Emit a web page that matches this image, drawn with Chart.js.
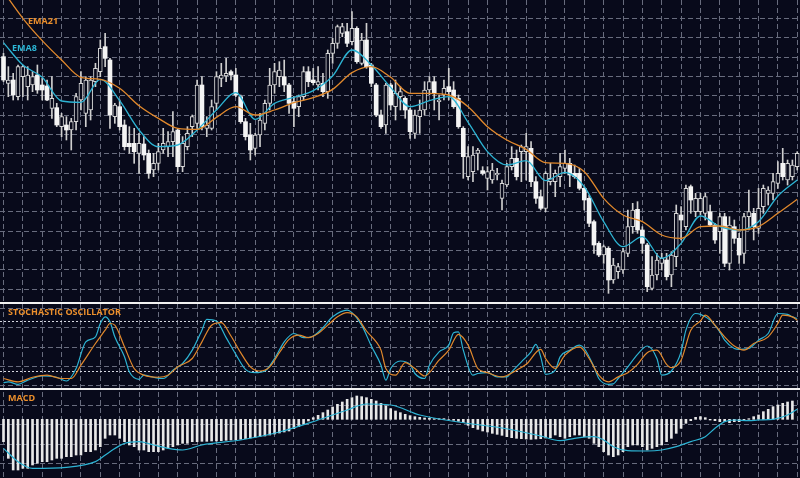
<!DOCTYPE html>
<html><head><meta charset="utf-8">
<script src="https://cdn.jsdelivr.net/npm/chart.js@4"></script>
<style>
html,body{margin:0;padding:0;background:#080a1b;}
#wrap{position:relative;width:800px;height:478px;overflow:hidden;background:#080a1b;}
canvas{position:absolute;left:0;top:0;}
.lbl{position:absolute;font-family:"Open Sans",sans-serif;font-weight:700;font-size:9px;line-height:9px;white-space:nowrap;}
</style></head><body>
<div id="wrap">
<canvas id="c" width="800" height="478"></canvas>
<div class="lbl" style="left:28px;top:16px;color:#ec8f2c">EMA21</div>
<div class="lbl" style="left:12px;top:43px;color:#2cb6d6">EMA8</div>
<div class="lbl" style="left:8px;top:307px;color:#ec8f2c;font-size:9px">STOCHASTIC OSCILLATOR</div>
<div class="lbl" style="left:8px;top:393px;color:#ec8f2c;font-size:9px">MACD</div>
</div>
<script>
// ---- price candles (one per bar) ----
const open  = [730,650,660,610,670,640,645,675,645,642,575,577,520,525,510,535,600,560,570,655,685,760,720,550,580,525,470,470,440,468,440,390,410,450,460,475,510,400,460,520,530,645,515,515,590,665,672,685,675,610,535,495,455,495,530,590,645,670,670,645,595,580,610,685,660,645,650,625,740,770,800,805,775,815,710,780,705,645,555,525,645,580,610,605,570,500,550,570,630,655,595,615,640,630,605,515,370,385,440,388,365,360,375,305,345,400,425,445,445,455,355,310,275,355,355,370,395,410,380,380,335,305,235,170,135,155,60,85,90,140,220,272,210,165,35,75,110,120,75,130,255,220,340,265,265,260,265,225,205,250,110,220,185,140,250,260,215,280,320,320,350,410,360,370,400];
const high  = [740,700,680,705,705,700,685,705,665,660,670,590,560,550,545,620,685,670,670,710,780,800,725,590,600,540,520,515,500,490,450,440,470,515,505,565,515,490,520,555,660,670,550,600,685,710,725,690,695,615,545,530,500,560,600,695,710,715,720,650,610,615,700,700,695,700,680,750,785,825,830,830,865,820,800,830,710,650,570,650,650,660,640,610,575,570,600,655,670,670,615,660,695,655,615,520,460,460,455,400,400,410,395,360,410,460,450,465,500,475,370,330,385,410,390,440,450,425,405,395,340,315,240,175,165,160,125,110,155,270,290,295,220,170,130,140,140,140,145,285,280,345,345,320,320,320,285,230,260,260,250,240,200,260,330,275,335,345,340,380,415,455,420,420,445];
const low   = [655,610,600,600,610,600,625,620,600,598,545,520,490,480,450,510,570,520,540,640,670,700,515,530,510,450,440,410,380,420,365,370,390,440,430,430,385,385,450,490,515,510,490,510,570,640,655,660,610,530,480,420,435,460,510,570,620,640,625,560,520,550,600,640,645,630,610,605,710,755,790,760,765,710,705,695,640,550,515,500,570,540,570,545,485,485,500,555,615,570,540,600,600,575,515,365,360,355,390,375,330,350,360,270,340,390,360,355,360,340,290,270,265,345,310,340,380,340,365,330,270,220,140,130,110,20,50,65,80,130,200,200,140,25,30,60,90,60,40,100,180,210,260,250,255,240,220,170,140,100,90,170,110,110,210,180,200,260,285,300,335,360,345,360,390];
const close = [660,660,615,700,700,675,670,630,630,600,605,525,550,510,535,610,650,660,660,695,755,725,555,585,520,460,460,445,470,435,380,410,445,470,475,505,400,470,500,550,645,520,525,580,670,675,680,675,615,535,490,450,495,540,590,645,685,690,645,590,575,610,685,655,652,655,625,740,770,820,820,770,815,715,780,700,650,555,520,645,585,620,625,570,505,555,570,630,655,620,600,635,625,580,520,430,430,435,450,380,385,390,380,350,400,425,370,460,460,355,305,275,380,365,380,400,410,375,370,335,300,230,165,135,160,60,105,100,145,220,270,210,170,40,75,120,125,70,135,260,240,335,300,305,305,310,225,180,250,110,225,185,135,250,265,220,275,335,330,355,380,370,410,405,440];

// ---- moving averages, read at every grid column ----
const emaIdx = [0,4,8,12,16,20,24,28,32,36,40,44,48,52,56,60,64,68,72,76,80,84,88,92,96,100,104,108,112,116,120,124,128,132,136,140,144,148,152,156,160,164];
const ema21  = [925,845,778,720,668,662,635,583,545,515,512,548,580,555,570,592,607,632,682,700,668,620,620,615,580,520,480,452,412,410,385,305,255,235,195,185,220,222,210,220,260,302];
const ema8   = [772,705,668,597,593,662,598,510,460,465,510,570,622,542,590,608,628,672,750,705,638,580,598,610,533,445,405,418,358,383,340,235,160,190,125,170,252,220,210,235,312,360];

// ---- stochastic oscillator (0-100) ----
const kIdx = [0,1,3,5,8,11,13,15,17,19,20,21,22,23,25,26,28,29,31,33,35,37,39,41,42,44,46,48,50,52,54,56,58,60,62,64,66,68,71,72,74,76,78,79,80,82,84,85,87,88,90,92,93,94,95,97,98,100,102,104,105,107,109,110,111,112,114,115,117,119,120,122,123,125,126,127,129,131,133,135,136,138,140,141,143,144,146,148,149,151,152,154,156,158,160,162,163,164];
const kVal = [6,7,4,9,14,12.5,8,23,55,61,77,85,79,61,37,19,10,15,12.5,11,21,29,45,69,82,80,60,40,22,18,20,35,55,65,60,62,72,85,93,90,75,50,27,9,23,32,28,17,11,27,43,51,66,67,45,15,17,18,13,13,19,31,43,52,37,16,21,37,45,51,47,25,11,4,4.5,11,25,40,50,35,15,20,43,69,89,88,81,67,57,47,46,47,57,65,89,88,85,83];
const dIdx = [0,3,6,9,12,14,16,19,21,22,23,25,27,29,32,34,36,39,41,43,45,47,49,51,53,55,57,59,61,63,65,67,69,71,73,75,77,78,79,81,83,85,87,90,92,94,96,98,100,103,106,108,111,112,114,116,119,121,123,125,127,129,131,133,135,137,138,140,142,144,145,147,149,151,153,155,158,160,161,163,164];
const dVal = [11,7,12.5,15,11,11,27,53,69,77,75,49,23,15,12.5,15,25,35,55,75,78,62,42,25,20,25,42,58,63,60,65,75,85,90,85,68,55,45,23,15,30,23,14,33,45,64,51,23,18,13,21,28,46,35,23,39,49,35,15,7,13,18,28,42,45,28,24,33,69,80,87,75,61,50,45,53,61,77,87,85,81];

// ---- MACD histogram (one per bar) and signal line ----
const macdHist = [-67,-117,-152,-152,-147,-147,-137,-132,-127,-127,-122,-117,-117,-112,-112,-107,-107,-97,-97,-92,-82,-57,-47,-47,-57,-67,-77,-82,-92,-92,-97,-97,-97,-92,-87,-82,-77,-72,-72,-67,-67,
 -66,-66,-65,-65,-64,-63,-62,-61,-60,-58,-56,-54,-52,-50,-47,-44,-41,-38,-35,-28,-22,-15,-5,5,12,20,28,37,45,52,60,65,70,68,65,60,55,48,40,32,25,20,15,11,8,6,4,3,2,2,2,0,-3,-6,-10,-18,-25,-30,-35,-38,-42,-45,-48,-52,-55,-57,-58,-59,-60,-59,-58,-56,-55,
 -47,-52,-57,-52,-47,-47,-52,-57,-72,-82,-97,-107,-112,-107,-97,-82,-77,-77,-82,-92,-87,-82,-77,-67,-57,-42,-27,-12,-4,6,8,5,-2,-4,-7,-7,-10,-7,-7,-4,2,8,13,23,30,38,43,48,52,55];
const sigIdx = [0,3,6,13,19,22,25,28,31,34,37,41,49,57,65,71,75,80,86,94,103,111,115,118,122,124,126,129,133,136,139,142,145,147,149,151,154,156,159,162,164];
const sigVal = [-87,-127,-147,-144,-127,-97,-72,-67,-77,-87,-92,-77,-62,-38,-2,28,46,43,13,-8,-26,-50,-64,-57,-52,-62,-82,-94,-95,-92,-82,-67,-52,-27,-7,-2,-4,-2,0,13,30];

// ---- axis helpers ----
const gridCols = Array.from({length: 42}, (_, k) => 4 * k);   // a grid column every 4 bars
const gridRows = Array.from({length: 24}, (_, k) => k + 1);   // grid rows in cell units
const stochLevels = [20, 80];
const panelEdges = [-1.9, 101.3];

const BG = '#080a1b', ORANGE = '#e2892c', CYAN = '#2db4d4', GRID = '#686c7e';
const pts = (xs, ys) => xs.map((x, i) => ({x, y: ys[i]}));
const up = open.map((o, i) => close[i] >= o);
const setTicks = list => ax => { ax.ticks = list.map(v => ({value: v})); };
const gridAxis = (extra) => Object.assign({
  display: true, ticks: {display: false},
  grid: {color: GRID, lineWidth: 1, drawTicks: false, offset: false},
  border: {display: false, dash: [5, 3]}
}, extra);

new Chart(document.getElementById('c'), {
  type: 'bar',
  data: {datasets: [
    {type: 'line', data: pts(emaIdx, ema21), yAxisID: 'yp', borderColor: ORANGE, borderWidth: 1.3, pointRadius: 0, cubicInterpolationMode: 'monotone', order: 0},
    {type: 'line', data: pts(emaIdx, ema8), yAxisID: 'yp', borderColor: CYAN, borderWidth: 1.3, pointRadius: 0, cubicInterpolationMode: 'monotone', order: 0},
    {type: 'bar', data: open.map((o, i) => ({x: i, y: [o, close[i]]})), yAxisID: 'yp', grouped: false, barThickness: 4,
      backgroundColor: up.map(u => u ? BG : '#f4f4f4'), borderColor: up.map(u => u ? '#d6d6d6' : '#f4f4f4'),
      borderWidth: up.map(u => u ? 1 : 0), borderSkipped: false, order: 1},
    {type: 'bar', data: high.map((h, i) => ({x: i, y: [low[i], h]})), yAxisID: 'yp', grouped: false, barThickness: 1,
      backgroundColor: '#cfcfcf', borderWidth: 0, order: 2},
    {type: 'line', data: pts(dIdx, dVal), yAxisID: 'ys', borderColor: ORANGE, borderWidth: 1.2, pointRadius: 0, cubicInterpolationMode: 'monotone', order: 0},
    {type: 'line', data: pts(kIdx, kVal), yAxisID: 'ys', borderColor: CYAN, borderWidth: 1.2, pointRadius: 0, cubicInterpolationMode: 'monotone', order: 0},
    {type: 'bar', data: macdHist.map((v, i) => ({x: i, y: v})), yAxisID: 'ym', grouped: false, barThickness: 2,
      backgroundColor: '#e8e8e8', borderWidth: 0, order: 3},
    {type: 'line', data: pts(sigIdx, sigVal), yAxisID: 'ym', borderColor: CYAN, borderWidth: 1.2, pointRadius: 0, cubicInterpolationMode: 'monotone', order: 0}
  ]},
  options: {
    responsive: false, animation: false, devicePixelRatio: 1,
    layout: {padding: 0},
    plugins: {legend: {display: false}, tooltip: {enabled: false}},
    scales: {
      x: gridAxis({type: 'linear', position: 'bottom', min: -0.723, max: 164.57, offset: false, afterBuildTicks: setTicks(gridCols)}),
      gy: gridAxis({type: 'linear', position: 'left', reverse: true, min: 0.0517, max: 24.755, afterBuildTicks: setTicks(gridRows)}),
      yp: {type: 'linear', display: false, min: -534, max: 900},
      ys: {type: 'linear', position: 'left', min: -108.4, max: 465.2, ticks: {display: false},
           grid: {color: '#d4d6de', lineWidth: 1, drawTicks: false}, border: {display: false, dash: [2, 2]},
           afterBuildTicks: setTicks(stochLevels)},
      ysep: {type: 'linear', position: 'left', min: -108.4, max: 465.2, ticks: {display: false},
           grid: {color: '#f2f2f2', lineWidth: 2, drawTicks: false}, border: {display: false},
           afterBuildTicks: setTicks(panelEdges)},
      ym: {type: 'linear', display: false, min: -176, max: 1258}
    }
  }
});
</script>
</body></html>
